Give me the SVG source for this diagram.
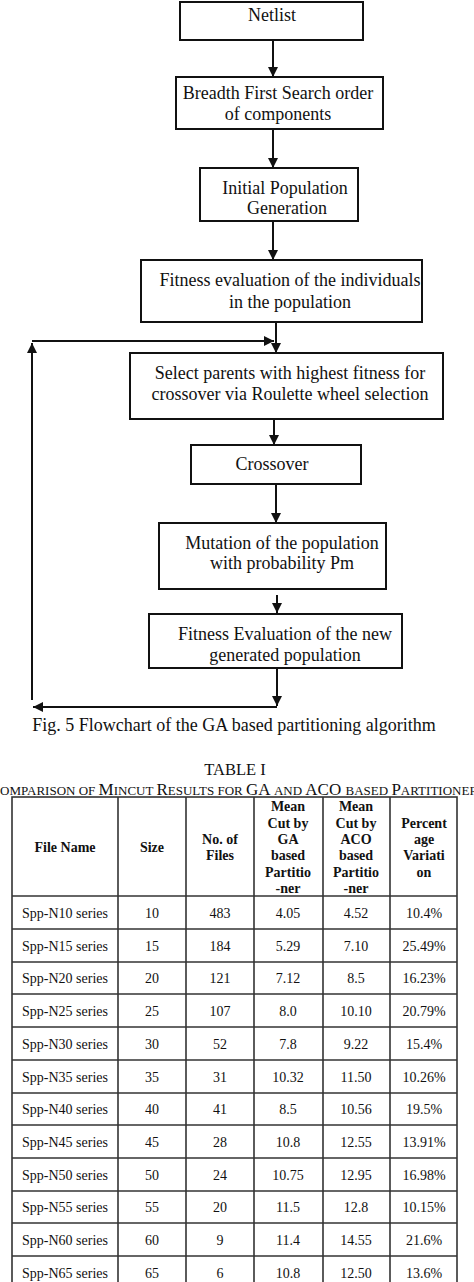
<svg xmlns="http://www.w3.org/2000/svg" width="474" height="1282" viewBox="0 0 474 1282">
<style>
.box{fill:#fff;stroke:#111;stroke-width:2}
.ft{font-family:"Liberation Serif","Times New Roman",serif;font-size:18px;fill:#111;text-anchor:middle}
.cap{font-family:"Liberation Serif","Times New Roman",serif;font-size:18px;fill:#111;text-anchor:middle}
.ln{fill:none;stroke:#111;stroke-width:2}
.tl{fill:none;stroke:#333;stroke-width:1.6}
.th{font-family:"Liberation Serif","Times New Roman",serif;font-size:14px;font-weight:bold;fill:#111;text-anchor:middle}
.td{font-family:"Liberation Serif","Times New Roman",serif;font-size:14px;fill:#111;text-anchor:middle}
</style>
<defs>
<marker id="ah" markerUnits="userSpaceOnUse" markerWidth="10" markerHeight="10" refX="10" refY="5" orient="auto" viewBox="0 0 10 10">
<path d="M0,0 L10,5 L0,10 z" fill="#111"/>
</marker>
</defs>
<rect width="474" height="1282" fill="#fff"/>

<g id="connectors">
<line class="ln" x1="273" y1="40" x2="273" y2="77" marker-end="url(#ah)"/>
<line class="ln" x1="273" y1="129" x2="273" y2="168" marker-end="url(#ah)"/>
<line class="ln" x1="273" y1="221" x2="273" y2="260" marker-end="url(#ah)"/>
<line class="ln" x1="276" y1="322" x2="276" y2="353" marker-end="url(#ah)"/>
<line class="ln" x1="32" y1="341" x2="274" y2="341" marker-end="url(#ah)"/>
<line class="ln" x1="32" y1="700" x2="32" y2="343" marker-end="url(#ah)"/>
<line class="ln" x1="274" y1="419" x2="274" y2="445" marker-end="url(#ah)"/>
<line class="ln" x1="276" y1="484" x2="276" y2="523" marker-end="url(#ah)"/>
<line class="ln" x1="277" y1="595" x2="277" y2="613" marker-end="url(#ah)"/>
<line class="ln" x1="277" y1="668" x2="277" y2="706" marker-end="url(#ah)"/>
<line class="ln" x1="277" y1="707" x2="33" y2="707" marker-end="url(#ah)"/>
</g>

<g id="n_netlist">
<rect class="box" x="180" y="2" width="183" height="38"/>
<text class="ft" x="272" y="21">Netlist</text>
</g>
<g id="n_bfs">
<rect class="box" x="176" y="77" width="207" height="52"/>
<text class="ft" x="278" y="99">Breadth First Search order</text>
<text class="ft" x="278" y="120">of components</text>
</g>
<g id="n_init">
<rect class="box" x="200" y="168" width="158" height="53"/>
<text class="ft" x="285" y="194">Initial Population</text>
<text class="ft" x="287" y="214">Generation</text>
</g>
<g id="n_fit">
<rect class="box" x="141" y="260" width="281" height="62"/>
<text class="ft" x="290" y="286">Fitness evaluation of the individuals</text>
<text class="ft" x="290" y="308">in the population</text>
</g>
<g id="n_select">
<rect class="box" x="130" y="353" width="313" height="66"/>
<text class="ft" x="290" y="379">Select parents with highest fitness for</text>
<text class="ft" x="290" y="400">crossover via Roulette wheel selection</text>
</g>
<g id="n_cross">
<rect class="box" x="191" y="445" width="170" height="39"/>
<text class="ft" x="272" y="470">Crossover</text>
</g>
<g id="n_mut">
<rect class="box" x="159" y="523" width="227" height="66"/>
<text class="ft" x="282" y="549">Mutation of the population</text>
<text class="ft" x="282" y="569">with probability Pm</text>
</g>
<g id="n_fitnew">
<rect class="box" x="149" y="614" width="253" height="54"/>
<text class="ft" x="285" y="640">Fitness Evaluation of the new</text>
<text class="ft" x="285" y="661">generated population</text>
</g>

<text class="cap" x="234" y="731">Fig. 5 Flowchart of the GA based partitioning algorithm</text>

<text class="cap" x="235" y="775" style="font-size:16.5px">TABLE I</text>
<text class="cap" x="237" y="795" style="font-size:17px">C<tspan font-size="13">OMPARISON OF </tspan>M<tspan font-size="13">INCUT </tspan>R<tspan font-size="13">ESULTS FOR </tspan>GA <tspan font-size="13">AND </tspan>ACO <tspan font-size="13">BASED </tspan>P<tspan font-size="13">ARTITIONERS</tspan></text>

<g id="table">
<rect class="tl" x="12" y="797" width="445" height="500"/>
<line class="tl" x1="118" y1="797" x2="118" y2="1297"/>
<line class="tl" x1="186" y1="797" x2="186" y2="1297"/>
<line class="tl" x1="254" y1="797" x2="254" y2="1297"/>
<line class="tl" x1="323" y1="797" x2="323" y2="1297"/>
<line class="tl" x1="390" y1="797" x2="390" y2="1297"/>
<line class="tl" x1="12" y1="896" x2="457" y2="896"/>
<line class="tl" x1="12" y1="929" x2="457" y2="929"/>
<line class="tl" x1="12" y1="962" x2="457" y2="962"/>
<line class="tl" x1="12" y1="994" x2="457" y2="994"/>
<line class="tl" x1="12" y1="1027" x2="457" y2="1027"/>
<line class="tl" x1="12" y1="1060" x2="457" y2="1060"/>
<line class="tl" x1="12" y1="1093" x2="457" y2="1093"/>
<line class="tl" x1="12" y1="1125" x2="457" y2="1125"/>
<line class="tl" x1="12" y1="1158" x2="457" y2="1158"/>
<line class="tl" x1="12" y1="1191" x2="457" y2="1191"/>
<line class="tl" x1="12" y1="1223" x2="457" y2="1223"/>
<line class="tl" x1="12" y1="1256" x2="457" y2="1256"/>
<line class="tl" x1="12" y1="1289" x2="457" y2="1289"/>

<text class="th" x="65" y="852">File Name</text>
<text class="th" x="152" y="852">Size</text>
<text class="th" x="220" y="844">No. of</text>
<text class="th" x="220" y="860">Files</text>
<text class="th" x="288" y="811">Mean</text>
<text class="th" x="288" y="828">Cut by</text>
<text class="th" x="288" y="844">GA</text>
<text class="th" x="288" y="860">based</text>
<text class="th" x="288" y="877">Partitio</text>
<text class="th" x="288" y="893">-ner</text>
<text class="th" x="356" y="811">Mean</text>
<text class="th" x="356" y="828">Cut by</text>
<text class="th" x="356" y="844">ACO</text>
<text class="th" x="356" y="860">based</text>
<text class="th" x="356" y="877">Partitio</text>
<text class="th" x="356" y="893">-ner</text>
<text class="th" x="424" y="828">Percent</text>
<text class="th" x="424" y="844">age</text>
<text class="th" x="424" y="860">Variati</text>
<text class="th" x="424" y="877">on</text>

<g class="row">
<text class="td" x="65" y="918">Spp-N10 series</text><text class="td" x="152" y="918">10</text><text class="td" x="220" y="918">483</text><text class="td" x="288" y="918">4.05</text><text class="td" x="356" y="918">4.52</text><text class="td" x="424" y="918">10.4%</text>
</g>
<g class="row">
<text class="td" x="65" y="951">Spp-N15 series</text><text class="td" x="152" y="951">15</text><text class="td" x="220" y="951">184</text><text class="td" x="288" y="951">5.29</text><text class="td" x="356" y="951">7.10</text><text class="td" x="424" y="951">25.49%</text>
</g>
<g class="row">
<text class="td" x="65" y="983">Spp-N20 series</text><text class="td" x="152" y="983">20</text><text class="td" x="220" y="983">121</text><text class="td" x="288" y="983">7.12</text><text class="td" x="356" y="983">8.5</text><text class="td" x="424" y="983">16.23%</text>
</g>
<g class="row">
<text class="td" x="65" y="1016">Spp-N25 series</text><text class="td" x="152" y="1016">25</text><text class="td" x="220" y="1016">107</text><text class="td" x="288" y="1016">8.0</text><text class="td" x="356" y="1016">10.10</text><text class="td" x="424" y="1016">20.79%</text>
</g>
<g class="row">
<text class="td" x="65" y="1049">Spp-N30 series</text><text class="td" x="152" y="1049">30</text><text class="td" x="220" y="1049">52</text><text class="td" x="288" y="1049">7.8</text><text class="td" x="356" y="1049">9.22</text><text class="td" x="424" y="1049">15.4%</text>
</g>
<g class="row">
<text class="td" x="65" y="1082">Spp-N35 series</text><text class="td" x="152" y="1082">35</text><text class="td" x="220" y="1082">31</text><text class="td" x="288" y="1082">10.32</text><text class="td" x="356" y="1082">11.50</text><text class="td" x="424" y="1082">10.26%</text>
</g>
<g class="row">
<text class="td" x="65" y="1114">Spp-N40 series</text><text class="td" x="152" y="1114">40</text><text class="td" x="220" y="1114">41</text><text class="td" x="288" y="1114">8.5</text><text class="td" x="356" y="1114">10.56</text><text class="td" x="424" y="1114">19.5%</text>
</g>
<g class="row">
<text class="td" x="65" y="1147">Spp-N45 series</text><text class="td" x="152" y="1147">45</text><text class="td" x="220" y="1147">28</text><text class="td" x="288" y="1147">10.8</text><text class="td" x="356" y="1147">12.55</text><text class="td" x="424" y="1147">13.91%</text>
</g>
<g class="row">
<text class="td" x="65" y="1180">Spp-N50 series</text><text class="td" x="152" y="1180">50</text><text class="td" x="220" y="1180">24</text><text class="td" x="288" y="1180">10.75</text><text class="td" x="356" y="1180">12.95</text><text class="td" x="424" y="1180">16.98%</text>
</g>
<g class="row">
<text class="td" x="65" y="1212">Spp-N55 series</text><text class="td" x="152" y="1212">55</text><text class="td" x="220" y="1212">20</text><text class="td" x="288" y="1212">11.5</text><text class="td" x="356" y="1212">12.8</text><text class="td" x="424" y="1212">10.15%</text>
</g>
<g class="row">
<text class="td" x="65" y="1245">Spp-N60 series</text><text class="td" x="152" y="1245">60</text><text class="td" x="220" y="1245">9</text><text class="td" x="288" y="1245">11.4</text><text class="td" x="356" y="1245">14.55</text><text class="td" x="424" y="1245">21.6%</text>
</g>
<g class="row">
<text class="td" x="65" y="1278">Spp-N65 series</text><text class="td" x="152" y="1278">65</text><text class="td" x="220" y="1278">6</text><text class="td" x="288" y="1278">10.8</text><text class="td" x="356" y="1278">12.50</text><text class="td" x="424" y="1278">13.6%</text>
</g>
</g>
</svg>
